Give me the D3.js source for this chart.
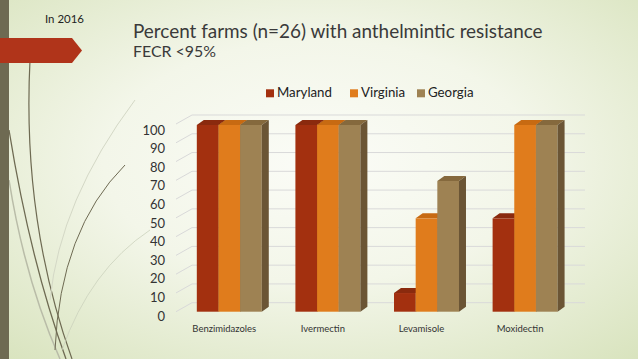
<!DOCTYPE html>
<html><head><meta charset="utf-8">
<script src="https://cdn.jsdelivr.net/npm/d3@7"></script>
<style>html,body{margin:0;padding:0;overflow:hidden;background:#fff}</style>
</head><body>
<script>
const categories = ["Benzimidazoles", "Ivermectin", "Levamisole", "Moxidectin"];
const series = ["Maryland", "Virginia", "Georgia"];
const maryland = [100, 100, 10, 50];
const virginia = [100, 100, 50, 100];
const georgia = [100, 100, 70, 100];
const yTicks = [0, 10, 20, 30, 40, 50, 60, 70, 80, 90, 100];
const seriesValues = [maryland, virginia, georgia];
const frontColors = ["#a3300f", "#e07c1c", "#9e8253"];
const topColors = ["#8a2a0e", "#c76a12", "#85693d"];
const sideColors = ["#6e1f08", "#a9570c", "#6b5535"];

const W = 638, H = 359;
const svg = d3.select("body").append("svg").attr("width", W).attr("height", H)
  .style("font-family", "Lato, 'Open Sans', sans-serif");

// font size that makes a text span the given width
function fitSize(sel, width, base) {
  sel.attr("font-size", base);
  const w = sel.node().getComputedTextLength();
  const s = w > 0 ? base * width / w : base;
  sel.attr("font-size", s);
  return s;
}

const defs = svg.append("defs");
const rg = defs.append("radialGradient").attr("id", "bg").attr("cx", "0.5").attr("cy", "0.45").attr("r", "0.75");
rg.append("stop").attr("offset", "0").attr("stop-color", "#fbfcf7");
rg.append("stop").attr("offset", "0.45").attr("stop-color", "#f3f6e9");
rg.append("stop").attr("offset", "1").attr("stop-color", "#d8e3bd");
svg.append("rect").attr("width", W).attr("height", H).attr("fill", "url(#bg)");

// decorative curves
const deco = svg.append("g").attr("fill", "none");
deco.append("path").attr("d", "M30,60 Q22,220 72,359").attr("stroke", "#6e6a52").attr("stroke-width", 1.2);
deco.append("path").attr("d", "M9,130 Q30,260 66,359").attr("stroke", "#6e6a52").attr("stroke-width", 1.3);
deco.append("path").attr("d", "M9,180 Q25,280 60,359").attr("stroke", "#b9bca8").attr("stroke-width", 1.5);
deco.append("path").attr("d", "M125,165 Q60,230 55,350").attr("stroke", "#6e6a52").attr("stroke-width", 1);
deco.append("path").attr("d", "M135,100 Q60,200 50,300").attr("stroke", "#d4d8c6").attr("stroke-width", 1);
deco.append("path").attr("d", "M150,230 Q90,270 62,350").attr("stroke", "#ccd2bc").attr("stroke-width", 0.8);

svg.append("rect").attr("x", 0).attr("y", 0).attr("width", 9).attr("height", H).attr("fill", "#6e6a52");
svg.append("path").attr("d", "M0,38 L72,38 L82,50.5 L72,63 L0,63 Z").attr("fill", "#b0341a");

fitSize(svg.append("text").attr("x", 45).attr("y", 23).attr("fill", "#222").text("In 2016"), 39, 12.5);
fitSize(svg.append("text").attr("x", 133).attr("y", 38.3).attr("fill", "#3a3a3a").text("Percent farms (n=26) with anthelmintic resistance"), 410, 21);
fitSize(svg.append("text").attr("x", 133).attr("y", 56.7).attr("fill", "#3a3a3a").text("FECR <95%"), 83, 16);

// scales
const x = d3.scaleBand().domain(categories).range([180, 574.4]).paddingInner(0.341).paddingOuter(0.1705);
const xs = d3.scaleBand().domain(series).range([0, x.bandwidth()]);
const y = d3.scaleLinear().domain([0, 100]).range([311.7, 125]);
const yBack = d3.scaleLinear().domain([0, 100]).range([302.7, 115]);
const yLab = d3.scaleLinear().domain([0, 100]).range([316, 130]);
const dx = 7, dy = -5;

// gridlines
const grid = svg.append("g").attr("stroke", "#d9d9d9").attr("stroke-width", 1).attr("fill", "none");
yTicks.forEach(t => {
  grid.append("path").attr("d", `M176,${yBack(t) + 9} L192,${yBack(t)} L585,${yBack(t)}`);
});

// y labels
svg.append("g").selectAll("text").data(yTicks).join("text")
  .attr("x", 165).attr("y", d => yLab(d)).attr("dy", "0.35em").attr("text-anchor", "end")
  .attr("font-size", 13).attr("fill", "#333").text(d => d);

// bars
const bars = svg.append("g");
categories.forEach((c, ci) => {
  series.forEach((s, si) => {
    const v = seriesValues[si][ci];
    const x0 = x(c) + xs(s), w = xs.bandwidth();
    const yt = y(v), yb = y(0);
    bars.append("rect").attr("x", x0).attr("y", yt).attr("width", w).attr("height", yb - yt).attr("fill", frontColors[si]);
    bars.append("path").attr("d", `M${x0},${yt} L${x0 + dx},${yt + dy} L${x0 + w + dx},${yt + dy} L${x0 + w},${yt} Z`).attr("fill", topColors[si]);
    bars.append("path").attr("d", `M${x0 + w},${yt} L${x0 + w + dx},${yt + dy} L${x0 + w + dx},${yb + dy} L${x0 + w},${yb} Z`).attr("fill", sideColors[si]);
  });
});

// x labels
const xl = svg.append("g").selectAll("text").data(categories).join("text")
  .attr("x", d => x(d) + x.bandwidth() / 2 - 5).attr("y", 329).attr("dy", "0.35em").attr("text-anchor", "middle")
  .attr("fill", "#333").text(d => d);
const catSize = fitSize(d3.select(xl.nodes()[0]), 64, 11);
xl.attr("font-size", catSize);

// legend
const legX = [266, 350, 417];
const leg = svg.append("g");
let legSize = null;
series.forEach((s, i) => {
  leg.append("rect").attr("x", legX[i]).attr("y", 89.3).attr("width", 8).attr("height", 8).attr("fill", frontColors[i]);
  const t = leg.append("text").attr("x", legX[i] + 11).attr("y", 97.3).attr("fill", "#222").text(s);
  if (i === 0) legSize = fitSize(t, 55, 14); else t.attr("font-size", legSize);
});
</script>
</body></html>
